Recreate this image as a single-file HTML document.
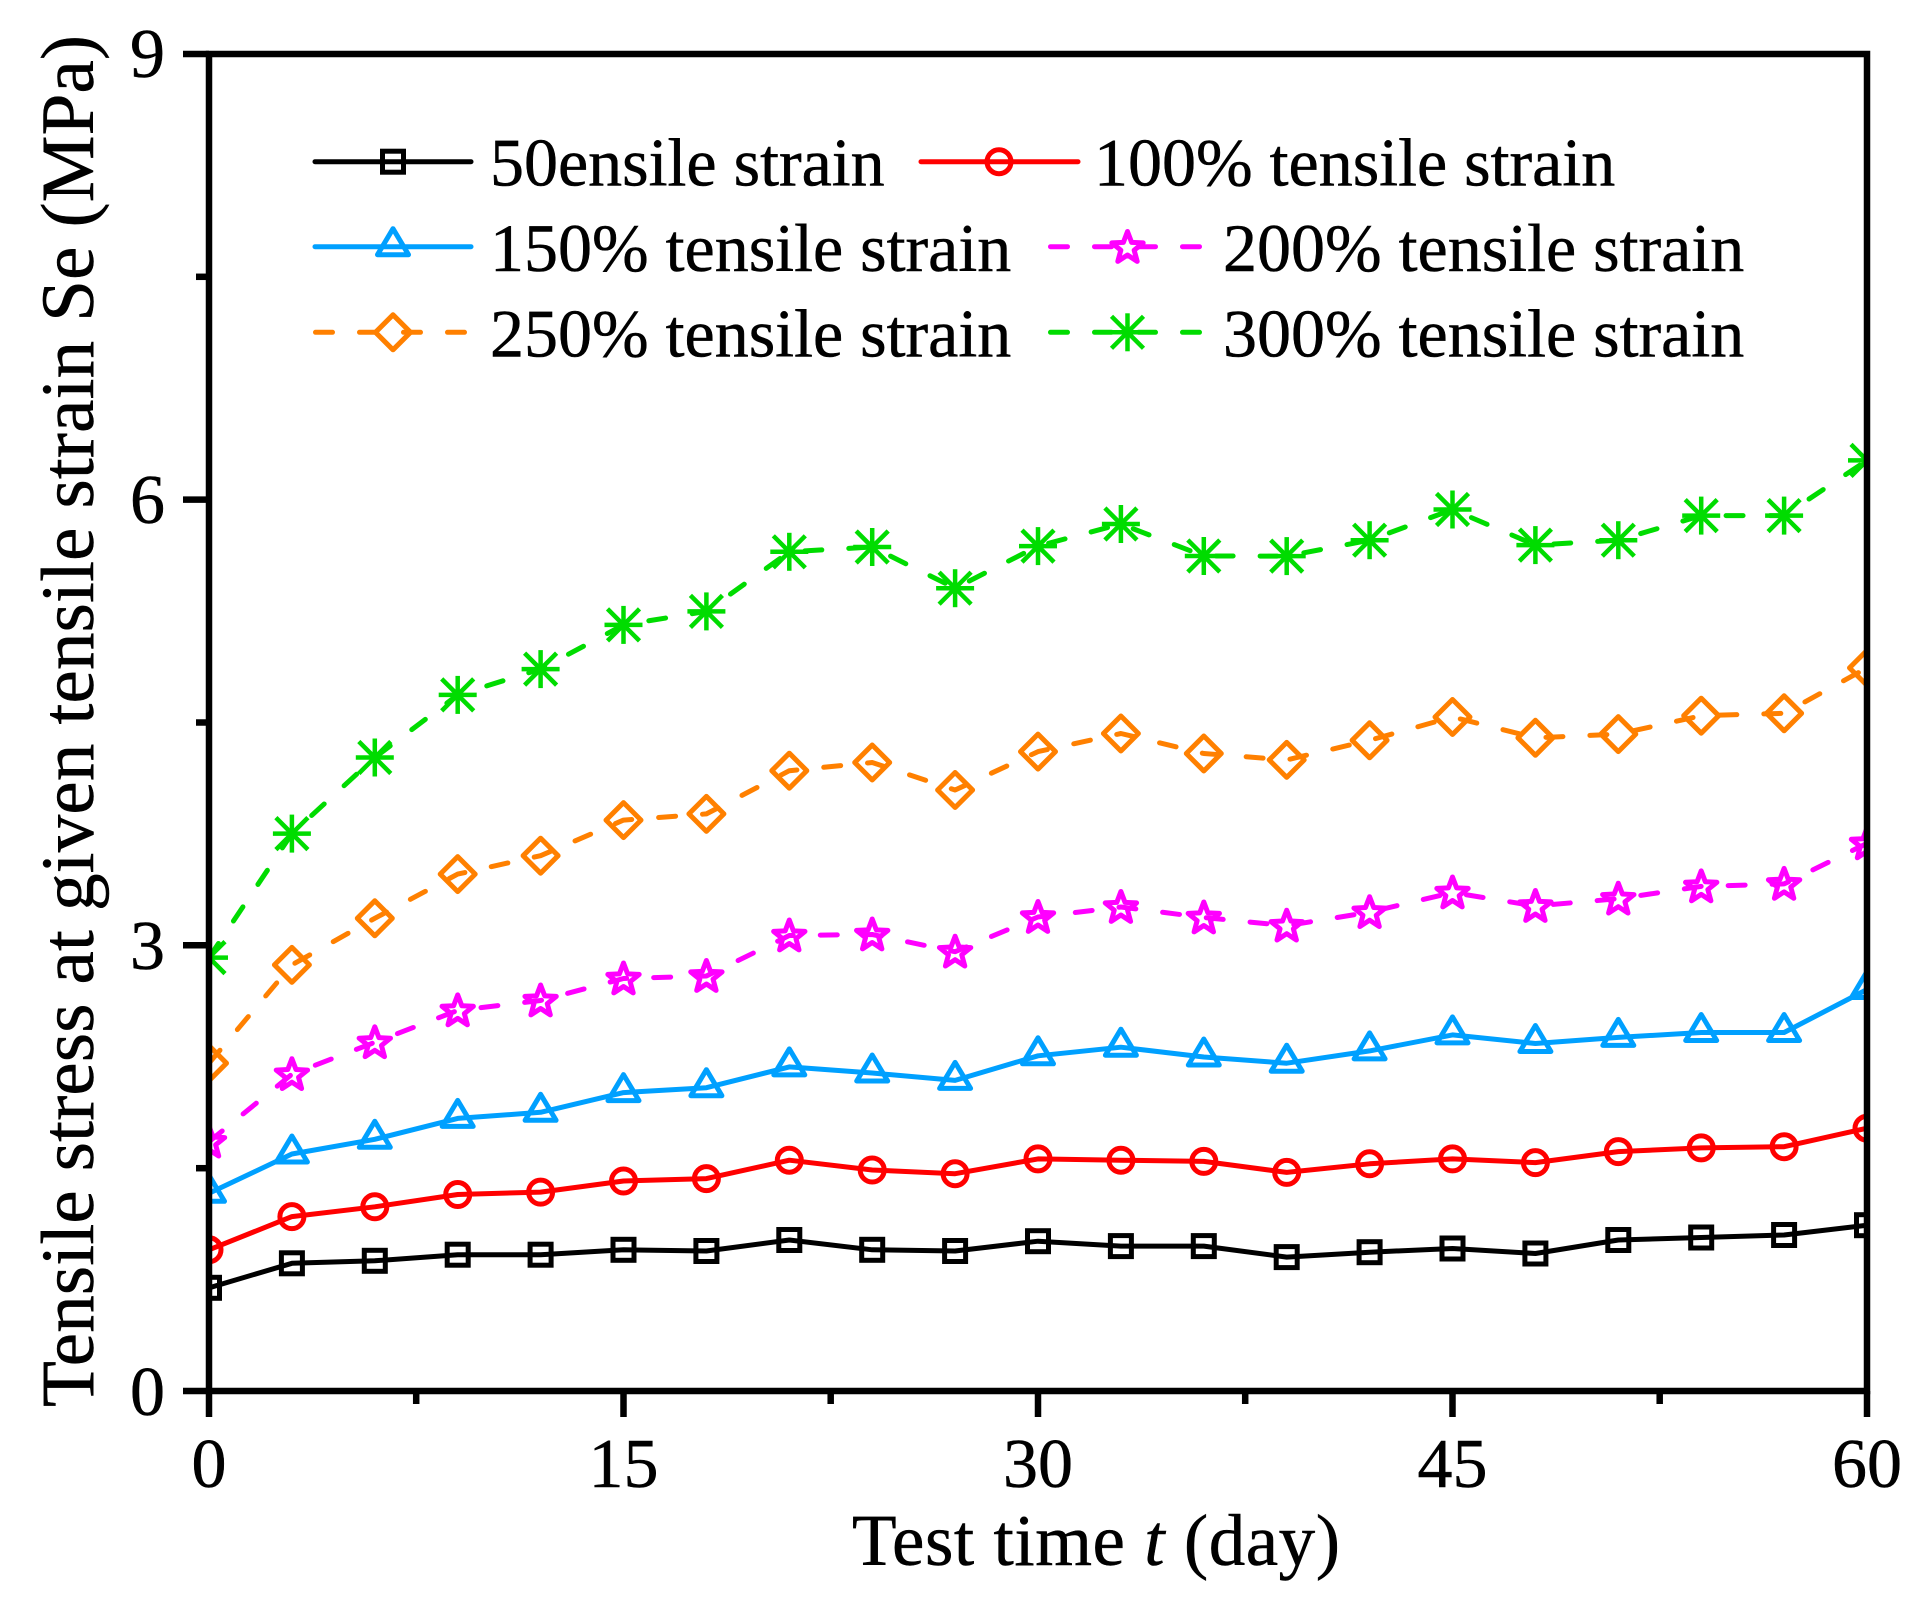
<!DOCTYPE html>
<html>
<head>
<meta charset="utf-8">
<style>
  html, body { margin: 0; padding: 0; background: #ffffff; }
  svg { display: block; }
  text { font-family: "Liberation Serif", "Times New Roman", serif; fill: #000; stroke: #000; stroke-width: 0.5; }
</style>
</head>
<body>
<svg width="1924" height="1597" viewBox="0 0 1924 1597" xmlns="http://www.w3.org/2000/svg">
  <defs>
    <clipPath id="plotclip" clipPathUnits="userSpaceOnUse">
      <rect x="209" y="54" width="1658" height="1337"/>
    </clipPath>
    <marker id="mSq" markerUnits="userSpaceOnUse" markerWidth="60" markerHeight="60" refX="30" refY="30" overflow="visible">
      <rect x="19.5" y="19.5" width="21" height="21" fill="none" stroke="#000000" stroke-width="5" stroke-dasharray="none"/>
    </marker>
    <marker id="mCi" markerUnits="userSpaceOnUse" markerWidth="60" markerHeight="60" refX="30" refY="30" overflow="visible">
      <circle cx="30" cy="30" r="12" fill="none" stroke="#ff0000" stroke-width="5" stroke-dasharray="none"/>
    </marker>
    <marker id="mTr" markerUnits="userSpaceOnUse" markerWidth="60" markerHeight="60" refX="30" refY="30" overflow="visible">
      <path d="M30,12 L45.5,38 L14.5,38 Z" fill="none" stroke="#00a0ff" stroke-width="5" stroke-linejoin="round" stroke-dasharray="none"/>
    </marker>
    <marker id="mSt" markerUnits="userSpaceOnUse" markerWidth="60" markerHeight="60" refX="30" refY="30" overflow="visible">
      <path transform="translate(30,31)" d="M0,-16.5 L4.11,-5.66 L15.69,-5.1 L6.66,2.16 L9.7,13.35 L0,7 L-9.7,13.35 L-6.66,2.16 L-15.69,-5.1 L-4.11,-5.66 Z" fill="none" stroke="#ff00ff" stroke-width="5" stroke-linejoin="round" stroke-dasharray="none"/>
    </marker>
    <marker id="mDi" markerUnits="userSpaceOnUse" markerWidth="60" markerHeight="60" refX="30" refY="30" overflow="visible">
      <path d="M30,12.5 L47.5,30 L30,47.5 L12.5,30 Z" fill="none" stroke="#ff8000" stroke-width="5" stroke-linejoin="round" stroke-dasharray="none"/>
    </marker>
    <marker id="mAs" markerUnits="userSpaceOnUse" markerWidth="60" markerHeight="60" refX="30" refY="30" overflow="visible">
      <g stroke="#00dc00" stroke-width="4.5" stroke-dasharray="none" fill="none">
        <line x1="11" y1="30" x2="49" y2="30"/>
        <line x1="30" y1="11" x2="30" y2="49"/>
        <line x1="14" y1="14" x2="46" y2="46"/>
        <line x1="14" y1="46" x2="46" y2="14"/>
      </g>
    </marker>
  </defs>

  <!-- Data series -->
  <g clip-path="url(#plotclip)" fill="none" stroke-width="5" stroke-linejoin="round">
    <polyline stroke="#000000" marker-start="url(#mSq)" marker-mid="url(#mSq)" marker-end="url(#mSq)"
      points="209,1287.8 291.9,1263.3 374.8,1260.8 457.7,1254.7 540.6,1254.7 623.5,1249.8 706.4,1251 789.3,1240 872.2,1249.8 955.1,1251 1038,1241.2 1120.9,1246.1 1203.8,1246.1 1286.7,1257.1 1369.6,1252.2 1452.5,1248.5 1535.4,1253.5 1618.3,1240 1701.2,1237.5 1784.1,1235 1867,1225.2"/>
    <polyline stroke="#ff0000" marker-start="url(#mCi)" marker-mid="url(#mCi)" marker-end="url(#mCi)"
      points="209,1249.8 291.9,1216.6 374.8,1206.8 457.7,1194.5 540.6,1192.1 623.5,1181 706.4,1178.6 789.3,1160.2 872.2,1170 955.1,1173.7 1038,1158.9 1120.9,1160.2 1203.8,1161.4 1286.7,1172.4 1369.6,1163.8 1452.5,1158.9 1535.4,1162.6 1618.3,1151.6 1701.2,1147.9 1784.1,1146.7 1867,1128.2"/>
    <polyline stroke="#00a0ff" marker-start="url(#mTr)" marker-mid="url(#mTr)" marker-end="url(#mTr)"
      points="209,1193.3 291.9,1154 374.8,1139.3 457.7,1118.4 540.6,1112.3 623.5,1092.6 706.4,1087.7 789.3,1066.9 872.2,1073 955.1,1080.4 1038,1055.8 1120.9,1047.2 1203.8,1057 1286.7,1063.2 1369.6,1050.9 1452.5,1034.9 1535.4,1043.5 1618.3,1037.4 1701.2,1032.5 1784.1,1032.5 1867,989.5"/>
    <polyline stroke="#ff00ff" stroke-dasharray="17 27" stroke-linecap="round" marker-start="url(#mSt)" marker-mid="url(#mSt)" marker-end="url(#mSt)"
      points="209,1141.7 291.9,1074.2 374.8,1042.3 457.7,1010.4 540.6,1000.5 623.5,978.5 706.4,976 789.3,935.5 872.2,934.5 955.1,951.7 1038,917 1120.9,907 1203.8,917.5 1286.7,925.7 1369.6,912.2 1452.5,892.5 1535.4,906 1618.3,898.7 1701.2,886.4 1784.1,883.9 1867,843.4"/>
    <polyline stroke="#ff8000" stroke-dasharray="17 27" stroke-linecap="round" marker-start="url(#mDi)" marker-mid="url(#mDi)" marker-end="url(#mDi)"
      points="209,1063.2 291.9,964.9 374.8,918.3 457.7,874.1 540.6,855.7 623.5,820.1 706.4,813.9 789.3,770.7 872.2,762.5 955.1,790 1038,751.6 1120.9,733.5 1203.8,753.5 1286.7,759.9 1369.6,740.3 1452.5,717 1535.4,737.8 1618.3,734.1 1701.2,715.7 1784.1,713.3 1867,667.9"/>
    <polyline stroke="#00dc00" stroke-dasharray="17 27" stroke-linecap="round" marker-start="url(#mAs)" marker-mid="url(#mAs)" marker-end="url(#mAs)"
      points="209,957.6 291.9,833.6 374.8,757.5 457.7,694.9 540.6,669.1 623.5,624.9 706.4,611.4 789.3,551.8 872.2,547 955.1,588.2 1038,546.1 1120.9,524 1203.8,556 1286.7,556.1 1369.6,540.2 1452.5,509.5 1535.4,545.1 1618.3,540.2 1701.2,515.6 1784.1,515.6 1867,460.4"/>
  </g>

  <!-- Axes frame -->
  <rect x="209" y="54" width="1658" height="1337" fill="none" stroke="#000" stroke-width="6.5" stroke-linejoin="miter"/>

  <!-- Ticks -->
  <g stroke="#000" stroke-width="6.5">
    <line x1="209" y1="1391" x2="209" y2="1417"/>
    <line x1="623.5" y1="1391" x2="623.5" y2="1417"/>
    <line x1="1038" y1="1391" x2="1038" y2="1417"/>
    <line x1="1452.5" y1="1391" x2="1452.5" y2="1417"/>
    <line x1="1867" y1="1391" x2="1867" y2="1417"/>
    <line x1="416.2" y1="1391" x2="416.2" y2="1404"/>
    <line x1="830.7" y1="1391" x2="830.7" y2="1404"/>
    <line x1="1245.2" y1="1391" x2="1245.2" y2="1404"/>
    <line x1="1659.7" y1="1391" x2="1659.7" y2="1404"/>
    <line x1="183" y1="1391" x2="209" y2="1391"/>
    <line x1="183" y1="945.3" x2="209" y2="945.3"/>
    <line x1="183" y1="499.6" x2="209" y2="499.6"/>
    <line x1="183" y1="54" x2="209" y2="54"/>
    <line x1="196" y1="1168.2" x2="209" y2="1168.2"/>
    <line x1="196" y1="722.5" x2="209" y2="722.5"/>
    <line x1="196" y1="276.8" x2="209" y2="276.8"/>
  </g>

  <!-- X tick labels -->
  <g font-size="70" text-anchor="middle">
    <text x="209" y="1487">0</text>
    <text x="623.5" y="1487">15</text>
    <text x="1038" y="1487">30</text>
    <text x="1452.5" y="1487">45</text>
    <text x="1867" y="1487">60</text>
  </g>
  <!-- Y tick labels -->
  <g font-size="70" text-anchor="end">
    <text x="165" y="1415">0</text>
    <text x="165" y="969">3</text>
    <text x="165" y="523">6</text>
    <text x="165" y="77">9</text>
  </g>

  <!-- Axis titles -->
  <text x="852" y="1565" font-size="73" textLength="488">Test time <tspan font-style="italic">t</tspan> (day)</text>
  <text x="93" y="721" font-size="75" text-anchor="middle" transform="rotate(-90 93 721)" textLength="1372">Tensile stress at given tensile strain Se (MPa)</text>

  <!-- Legend lines -->
  <g fill="none" stroke-width="5" stroke-linecap="round">
    <line x1="315" y1="161.7" x2="471" y2="161.7" stroke="#000000"/>
    <line x1="921" y1="161.7" x2="1078" y2="161.7" stroke="#ff0000"/>
    <line x1="315" y1="246.7" x2="471" y2="246.7" stroke="#00a0ff"/>
    <line x1="1050.5" y1="246.7" x2="1200" y2="246.7" stroke="#ff00ff" stroke-dasharray="17 27"/>
    <line x1="315.5" y1="332.3" x2="465" y2="332.3" stroke="#ff8000" stroke-dasharray="17 27"/>
    <line x1="1050.5" y1="332.3" x2="1200" y2="332.3" stroke="#00dc00" stroke-dasharray="17 27"/>
  </g>
  <!-- Legend markers -->
  <rect x="382.5" y="151.2" width="21" height="21" fill="none" stroke="#000000" stroke-width="5"/>
  <circle cx="999" cy="161.7" r="12" fill="none" stroke="#ff0000" stroke-width="5"/>
  <path transform="translate(393,246.7)" d="M0,-18 L15.5,8 L-15.5,8 Z" fill="none" stroke="#00a0ff" stroke-width="5" stroke-linejoin="round"/>
  <path transform="translate(1127.5,248)" d="M0,-16.5 L4.11,-5.66 L15.69,-5.1 L6.66,2.16 L9.7,13.35 L0,7 L-9.7,13.35 L-6.66,2.16 L-15.69,-5.1 L-4.11,-5.66 Z" fill="none" stroke="#ff00ff" stroke-width="5" stroke-linejoin="round"/>
  <path transform="translate(393,332.3)" d="M0,-17.5 L17.5,0 L0,17.5 L-17.5,0 Z" fill="none" stroke="#ff8000" stroke-width="5" stroke-linejoin="round"/>
  <g transform="translate(1127.5,332.3)" stroke="#00dc00" stroke-width="4.5">
    <line x1="-19" y1="0" x2="19" y2="0"/>
    <line x1="0" y1="-19" x2="0" y2="19"/>
    <line x1="-16" y1="-16" x2="16" y2="16"/>
    <line x1="-16" y1="16" x2="16" y2="-16"/>
  </g>
  <!-- Legend text -->
  <g font-size="68">
    <text x="490" y="185.7">50ensile strain</text>
    <text x="1094" y="185.7">100% tensile strain</text>
    <text x="490" y="271">150% tensile strain</text>
    <text x="1223" y="271">200% tensile strain</text>
    <text x="490" y="356.3">250% tensile strain</text>
    <text x="1223" y="356.3">300% tensile strain</text>
  </g>
</svg>
</body>
</html>
